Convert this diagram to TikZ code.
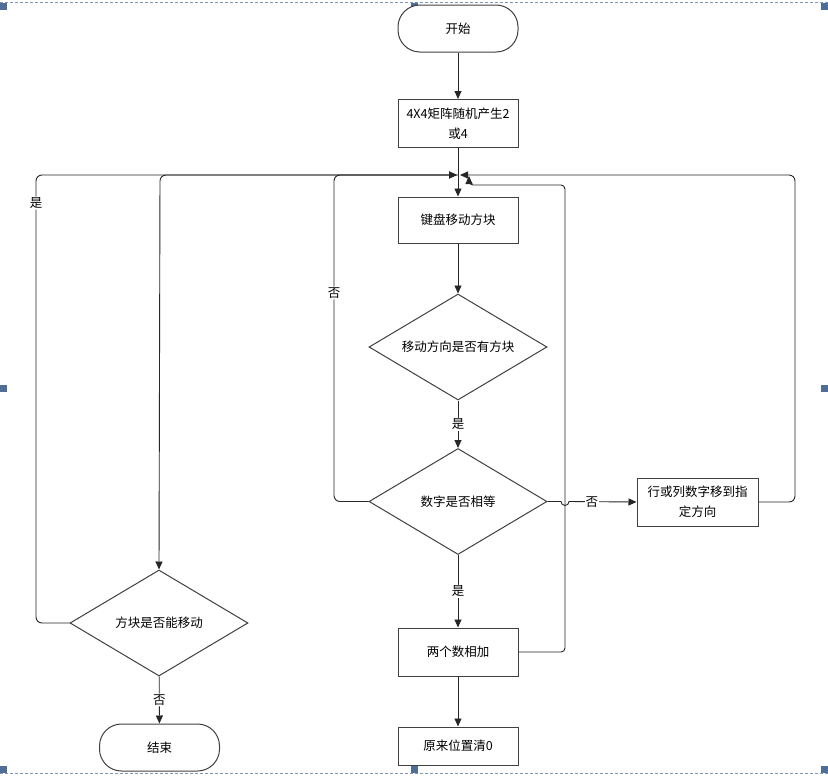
\documentclass[tikz,border=0pt]{standalone}
\usepackage{fontspec}
\setmainfont{Noto Sans CJK SC}
\usetikzlibrary{arrows.meta,shapes.geometric}
\definecolor{selline}{RGB}{128,150,182}
\definecolor{handle}{RGB}{78,110,152}
\begin{document}
\begin{tikzpicture}[x=1pt,y=-1pt,
  font=\fontsize{12.5}{20}\selectfont,
  >={Triangle[length=8pt,width=7pt]},
  every path/.style={line width=0.9pt},
  lineclr/.style={draw=black!85},
  box/.style={draw=black!75, line width=1pt, fill=white, minimum width=120pt, minimum height=48pt, align=center, inner sep=2pt},
  term/.style={draw=black!75, line width=1pt, fill=white, rounded corners=22pt, minimum width=120pt, minimum height=47pt},
  dia/.style={draw=black!75, line width=1pt, fill=white, diamond, aspect=1.68, minimum width=178pt, minimum height=106pt, inner sep=0pt},
  lbl/.style={fill=white, inner sep=1pt, font=\fontsize{12.5}{14}\selectfont},
  conn/.style={draw=black!85, line width=0.9pt, rounded corners=6pt}
]
\useasboundingbox (0,0) rectangle (828,779);
% selection frame
\draw[selline, dashed, line width=0.8pt, dash pattern=on 3pt off 2pt] (0,2) -- (828,2);
\draw[selline, dashed, line width=0.8pt, dash pattern=on 3pt off 2pt] (0,773) -- (828,773);
\foreach \hx/\hy in {0/3, 411/3, 821/3, 0/385, 821/385, 0/766, 411/766, 821/766}
  \fill[handle] (\hx,\hy) rectangle ++(7,7);

% nodes
\node[term] (start) at (458,28.5) {开始};
\node[box] (init) at (458,123.5) {4X4矩阵随机产生2\\或4};
\node[box, minimum height=46pt] (key) at (458,220) {键盘移动方块};
\node[dia] (d1) at (458,347) {移动方向是否有方块};
\node[dia] (d2) at (458,501.5) {数字是否相等};
\node[box] (add) at (458,652) {两个数相加};
\node[box, minimum height=38pt] (clr) at (458,746) {原来位置清0};
\node[box, minimum width=121pt] (shift) at (697.5,502) {行或列数字移到指\\定方向};
\node[dia] (d3) at (159,623) {方块是否能移动};
\node[term] (end) at (159.5,747.5) {结束};
\coordinate (m) at (458,175);
\coordinate (mL) at (457,175);
\coordinate (mR) at (460,175);
\coordinate (mU) at (469,176);

% straight connectors
\draw[conn,->] (start) -- (init);
\draw[conn,->] (init) -- (key);
\draw[conn,->] (key) -- (d1);
\draw[conn,->] (d1) -- node[lbl] (y1) {是} (d2);
\draw[conn,->] (d2) -- node[lbl] (y2) {是} (add);
\draw[conn,->] (add) -- (clr);
\draw[conn,->] (d3) -- node[lbl] (n3) {否} (end);

% loops
\draw[conn,->] (d3.west) -- (36,623) -- node[lbl, pos=0.9375] (y3) {是} (36,175) -- (mL);
\draw[conn,->] (m) -- (160,175) -- (d3.north);
\draw[conn,->] (d2.west) -- (334,501.5) -- node[lbl, pos=0.6386] (n2) {否} (334,175) -- (mL);
\draw[conn,->] (shift.east) -- (795,502) -- (795,175) -- (mR);
\draw[conn,->, rounded corners=4pt] (add.east) -- (565,652) -- (565,185) -- (469,185) -- (mU);
\draw[draw=black!85, line width=0.9pt, ->] (d2.east) -- (561,501.5) arc[start angle=180, end angle=0, radius=4] -- node[lbl, pos=0.34] (n1) {否} (shift.west);
\end{tikzpicture}
\end{document}
